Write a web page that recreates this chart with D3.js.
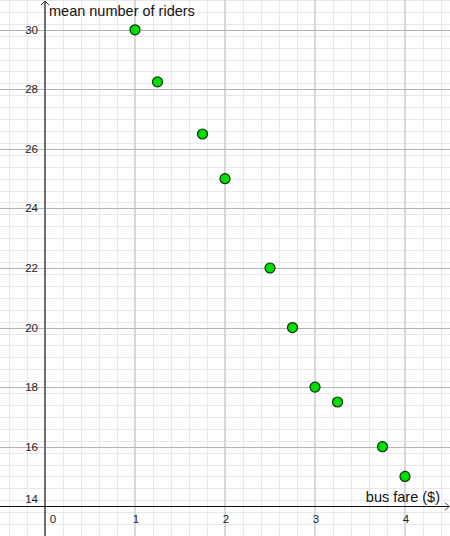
<!DOCTYPE html>
<html lang="en">
<head>
    <meta charset="UTF-8">
    <title>Bus fare vs riders</title>
    <script src="https://cdn.jsdelivr.net/npm/d3@7"></script>
    <style>
        body { margin: 0; background: #fff; }
        svg { display: block; font-family: "Liberation Sans", Arial, sans-serif; }
    </style>
</head>
<body>
    <script>
        //data
        var fares = [1, 1.25, 1.75, 2, 2.5, 2.75, 3, 3.25, 3.75, 4];
        var riders = [30, 28.25, 26.5, 25, 22, 20, 18, 17.5, 16, 15];
        var xTickLabels = [0, 1, 2, 3, 4];
        var yTickLabels = [14, 16, 18, 20, 22, 24, 26, 28, 30];
        var xTitle = 'bus fare ($)';
        var yTitle = 'mean number of riders';

        //width and height
        var w = 450;
        var h = 536;

        //scales
        var xScale = d3.scaleLinear().domain([-0.5, 4.5]).range([0, w]);
        var yScale = d3.scaleLinear().domain([13.0, 31.0]).range([h, 0]);

        var svg = d3.select('body')
                    .append('svg')
                    .attr('width', w)
                    .attr('height', h);

        //minor grid
        var grid = svg.append('g').attr('shape-rendering', 'crispEdges');
        grid.selectAll('.vminor')
            .data(d3.range(-0.4, 4.5, 0.2))
            .enter()
            .append('line')
            .attr('x1', function(d) { return Math.round(xScale(d)) + 0.5; })
            .attr('x2', function(d) { return Math.round(xScale(d)) + 0.5; })
            .attr('y1', 0)
            .attr('y2', h)
            .attr('stroke', '#e8e8e8');
        grid.selectAll('.hminor')
            .data(d3.range(12.6, 31.2, 0.4))
            .enter()
            .append('line')
            .attr('y1', function(d) { return Math.round(yScale(d)) + 0.5; })
            .attr('y2', function(d) { return Math.round(yScale(d)) + 0.5; })
            .attr('x1', 0)
            .attr('x2', w)
            .attr('stroke', '#e8e8e8');

        //major grid
        grid.selectAll('.vmajor')
            .data(xTickLabels.slice(1))
            .enter()
            .append('line')
            .attr('x1', function(d) { return xScale(d); })
            .attr('x2', function(d) { return xScale(d); })
            .attr('y1', 0)
            .attr('y2', h)
            .attr('stroke', '#d8d8d8')
            .attr('stroke-width', 2);
        grid.selectAll('.hmajor')
            .data(yTickLabels.slice(1))
            .enter()
            .append('line')
            .attr('y1', function(d) { return Math.round(yScale(d)) + 0.5; })
            .attr('y2', function(d) { return Math.round(yScale(d)) + 0.5; })
            .attr('x1', 0)
            .attr('x2', w)
            .attr('stroke', '#b4b4b4');

        //axes
        var x0 = xScale(0);
        var y0 = Math.round(yScale(14)) + 0.5;
        svg.append('line')
            .attr('x1', x0).attr('x2', x0)
            .attr('y1', 1).attr('y2', h)
            .attr('stroke', '#6e6e6e')
            .attr('stroke-width', 2);
        svg.append('path')
            .attr('d', 'M' + (x0 - 4) + ',5L' + x0 + ',1L' + (x0 + 4) + ',5')
            .attr('fill', 'none')
            .attr('stroke', '#333')
            .attr('stroke-width', 1);
        svg.append('line')
            .attr('x1', 0).attr('x2', w - 1)
            .attr('y1', y0).attr('y2', y0)
            .attr('stroke', '#111')
            .attr('stroke-width', 1);
        svg.append('path')
            .attr('d', 'M' + (w - 5) + ',' + (y0 - 4) + 'L' + (w - 1) + ',' + y0 + 'L' + (w - 5) + ',' + (y0 + 4))
            .attr('fill', 'none')
            .attr('stroke', '#333')
            .attr('stroke-width', 1);

        //tick labels
        svg.selectAll('.xlab')
            .data(xTickLabels)
            .enter()
            .append('text')
            .text(function(d) { return d; })
            .attr('text-anchor', 'middle')
            .attr('x', function(d) { return d === 0 ? xScale(d) + 8 : xScale(d) + 1; })
            .attr('y', y0 + 16)
            .attr('font-size', '11.5px')
            .attr('fill', '#222');
        svg.selectAll('.ylab')
            .data(yTickLabels)
            .enter()
            .append('text')
            .text(function(d) { return d; })
            .attr('text-anchor', 'end')
            .attr('x', x0 - 7)
            .attr('y', function(d) { return d === 14 ? yScale(d) - 3 : yScale(d) + 4; })
            .attr('font-size', '11.5px')
            .attr('fill', '#222');

        //axis titles
        svg.append('text')
            .text(yTitle)
            .attr('x', x0 + 4)
            .attr('y', 16)
            .attr('font-size', '14.5px')
            .attr('fill', '#111');
        svg.append('text')
            .text(xTitle)
            .attr('text-anchor', 'end')
            .attr('x', w - 10)
            .attr('y', y0 - 5)
            .attr('font-size', '14.5px')
            .attr('fill', '#111');

        //points
        svg.selectAll('circle')
            .data(fares)
            .enter()
            .append('circle')
            .attr('cx', function(d) { return xScale(d); })
            .attr('cy', function(d, i) { return yScale(riders[i]); })
            .attr('r', 5)
            .attr('fill', '#00e000')
            .attr('stroke', '#063306')
            .attr('stroke-width', 1.2);
    </script>
</body>
</html>
